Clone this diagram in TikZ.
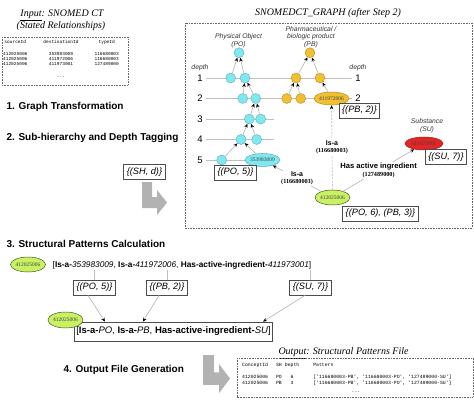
\documentclass[tikz,border=0pt]{standalone}
\usepackage{fontspec}
\setmainfont{Liberation Serif}
\setsansfont{Liberation Sans}
\setmonofont{Liberation Mono}
\usetikzlibrary{shapes.geometric, arrows.meta}

\definecolor{pocyan}{RGB}{128,232,240}
\definecolor{pbgold}{RGB}{240,192,50}
\definecolor{cgreen}{RGB}{200,242,100}
\definecolor{sured}{RGB}{226,38,38}

\begin{document}
\begin{tikzpicture}[
            x=1pt, y=-1pt, % pixel grid, y grows downwards
            title/.style={font=\rmfamily\itshape\fontsize{10}{12}\selectfont, anchor=base}, % Serif titles
            stepname/.style={font=\sffamily\bfseries\fontsize{10}{12}\selectfont, anchor=base west}, % Step headings
            dotbox/.style={draw=black!60, line width=0.8pt, dash pattern=on 0.8pt off 0.8pt},
            tag/.style={draw=black!70, line width=0.8pt, fill=white, inner xsep=3pt, inner ysep=0pt, minimum height=15pt, font=\sffamily\itshape\fontsize{9.2}{11}\selectfont},
            leaf/.style={circle, minimum size=10pt, inner sep=0pt, line width=0.4pt},
            po/.style={leaf, fill=pocyan, draw=pocyan!75!black}, % Physical Object nodes
            pb/.style={leaf, fill=pbgold, draw=pbgold!75!black}, % Pharmaceutical nodes
            cid/.style={ellipse, inner sep=0pt, minimum width=35pt, minimum height=13pt, line width=0.5pt, text=black!75, font=\rmfamily\fontsize{5.5}{6}\selectfont},
            isa/.style={draw=black!30, line width=0.6pt, -{Stealth[color=black, length=4pt, width=3.5pt]}},
            depthline/.style={draw=black!25, line width=0.6pt},
            depthno/.style={font=\sffamily\fontsize{9.5}{11}\selectfont},
            hier/.style={font=\sffamily\itshape\fontsize{6.8}{7.5}\selectfont, align=center, inner sep=0pt, text=black!80},
            rel/.style={fill=white, inner sep=0.6pt, align=center, font=\sffamily\bfseries\fontsize{7}{7.5}\selectfont},
            rows/.style={font=\ttfamily\fontsize{4.5}{5}\selectfont, inner sep=0pt},
            bigarrow/.pic={\fill[black!30] (0,0) -- (10,0) -- (10,15) -- (15,15) -- (15,8) -- (25,20.5) -- (15,33) -- (15,26) -- (0,26) -- cycle;}
            ]
        \useasboundingbox (0,0) rectangle (474,401);

        % Input table
        \node[title] (intitle) at (62,17) {\underline{Input}: SNOMED CT};
        \node[title] (insub) at (61,28.5) {(Stated Relationships)};
        \draw[dotbox] (2,37) rectangle (128,85);
        \node[rows, anchor=north] (intable) at (61,39.5) {\begin{tabular}{@{}c@{\hspace{16pt}}c@{\hspace{16pt}}c@{}}
            sourceId & destinationId & typeId\\[7pt]
            412025006 & 353983009 & 116680003\\
            412025006 & 411972006 & 116680003\\
            412025006 & 411973001 & 127489000\\[7pt]
            & ... &
            \end{tabular}};

        \node[stepname] (step1) at (3,110) {1. Graph Transformation};
        \node[stepname] (step2) at (3,141) {2. Sub-hierarchy and Depth Tagging};
        \node[tag] (sh) at (144.5,172) {\{(SH, d)\}};
        \pic at (142,182) {bigarrow};

        % Graph after step 2
        \node[title] (graphtitle) at (328,16) {SNOMEDCT\_GRAPH (after Step 2)};
        \draw[dotbox] (185,23) rectangle (472,228);
        \node[hier, anchor=north] (pohead) at (238.5,33.5) {Physical Object\\(PO)};
        \node[hier, anchor=north] (pbhead) at (311,26) {Pharmaceutical /\\biologic product\\(PB)};
        \node[hier, anchor=base] (depthl) at (200,70) {depth};
        \node[hier, anchor=base] (depthr) at (358,69.5) {depth};

        % Depth levels
        \foreach \d/\y in {1/78, 2/98.5, 3/119, 4/139.5, 5/160}
            \node[depthno] (d\d) at (200,\y) {\d};
        \node[depthno] (r1) at (358,78) {1};
        \node[depthno] (r2) at (358,98.5) {2};
        \coordinate (e3) at (274,119);
        \coordinate (e4) at (274,139.5);
        \coordinate (e5) at (262,160);
        \draw[depthline] (d1) -- (r1);
        \draw[depthline] (d2) -- (r2);
        \foreach \d in {3,4,5}
            \draw[depthline] (d\d) -- (e\d);

        % Physical Object sub-hierarchy
        \node[po] (po0) at (239,52.7) {};
        \node[po] (po1a) at (230.7,78) {};
        \node[po] (po1b) at (245,78) {};
        \node[po] (po2a) at (242.7,98.5) {};
        \node[po] (po2b) at (255.7,98.5) {};
        \node[po] (po3a) at (249.3,119) {};
        \node[po] (po3b) at (260.7,119) {};
        \node[po] (po4a) at (241,139.5) {};
        \node[po] (po4b) at (256.7,139.5) {};
        \node[po] (po5a) at (221.7,160) {};
        \node[cid, fill=pocyan, draw=pocyan!75!black] (po5b) at (262.5,160) {353983009};
        \foreach \c/\p in {po1a/po0, po1b/po0, po2a/po1b, po2b/po1b, po3a/po2b, po3b/po2b, po4a/po3a, po4b/po3a, po5a/po4a, po5b/po4a}
            \draw[isa] (\c) -- (\p);

        % Pharmaceutical / biologic product sub-hierarchy
        \node[pb] (pb0) at (310,52.7) {};
        \node[pb] (pb1a) at (296,78) {};
        \node[pb] (pb1b) at (320,78) {};
        \node[pb] (pb2a) at (286.7,98.5) {};
        \node[pb] (pb2b) at (300.7,98.5) {};
        \node[cid, fill=pbgold, draw=pbgold!75!black] (pb2c) at (331.5,98.5) {411972006};
        \foreach \c/\p in {pb1a/pb0, pb1b/pb0, pb2a/pb1a, pb2b/pb1a, pb2c/pb1b}
            \draw[isa] (\c) -- (\p);

        % Substance and the focus concept
        \node[hier, anchor=south] (suhead) at (427,133) {Substance\\(SU)};
        \node[cid, fill=sured, draw=sured!70!black, minimum width=38pt] (su) at (424,143.5) {411973001};
        \node[cid, fill=cgreen, draw=cgreen!35!black, minimum height=15pt] (focus) at (332.5,197.5) {412025006};
        \draw[isa] (focus) -- node[rel] {Is-a\\{\rmfamily\fontsize{6.2}{7}\selectfont(116680003)}} (po5b);
        \draw[isa, dash pattern=on 2pt off 1.5pt] (focus) -- node[rel] {Is-a\\{\rmfamily\fontsize{6.2}{7}\selectfont(116680003)}} (pb2c);
        \draw[isa] (focus) -- node[rel, font=\sffamily\bfseries\fontsize{7.6}{8.5}\selectfont] {Has active ingredient\\{\rmfamily\fontsize{6.2}{7}\selectfont(127489000)}} (su);

        \node[tag] (pbtag) at (359.5,110.5) {\{(PB, 2)\}};
        \node[tag] (potag) at (235.5,172.5) {\{(PO, 5)\}};
        \node[tag] (sutag) at (446,157) {\{(SU, 7)\}};
        \node[tag] (focustag) at (380.5,213.5) {\{(PO, 6), (PB, 3)\}};

        % Step 3
        \node[stepname] (step3) at (3,247.5) {3. Structural Patterns Calculation};
        \node[cid, fill=cgreen, draw=cgreen!35!black, minimum height=15pt] (focus3) at (28,264.5) {412025006};
        \node[anchor=base west, inner sep=0.5pt, font=\sffamily\fontsize{8.3}{10}\selectfont] (chain) at (52,267.5)
            {[\textbf{Is-a-}\textit{353983009}, \textbf{Is-a-}\textit{411972006}, \textbf{Has-active-ingredient-}\textit{411973001}]};
        \node[tag] (potag3) at (94.5,287.5) {\{(PO, 5)\}};
        \node[tag] (pbtag3) at (167,287.5) {\{(PB, 2)\}};
        \node[tag] (sutag3) at (310.5,287.5) {\{(SU, 7)\}};
        \foreach \t in {potag3, pbtag3, sutag3}
            \draw[depthline] (\t.north) -- (\t.north |- chain.south);

        \node[tag, font=\sffamily\fontsize{9.5}{11}\selectfont, minimum height=19pt, inner xsep=2pt] (pattern) at (173.5,331.5)
            {[\textbf{Is-a-}\textit{PO}, \textbf{Is-a-}\textit{PB}, \textbf{Has-active-ingredient-}\textit{SU}]};
        \draw[isa] ([xshift=-6.5pt]potag3.south) -- ([xshift=31pt]pattern.north west);
        \draw[isa] ([xshift=-8pt]pbtag3.south) -- ([xshift=69pt]pattern.north west);
        \draw[isa] ([xshift=-5.5pt]sutag3.south) -- ([xshift=-10pt]pattern.north east);
        \node[cid, fill=cgreen, draw=cgreen!35!black, minimum height=16pt] (focus4) at (65.5,320) {412025006};

        % Step 4
        \node[stepname] (step4) at (60,372) {4. Output File Generation};
        \pic[xscale=1.08, yscale=1.15] at (203,355) {bigarrow};
        \node[title] (outtitle) at (343.5,354.5) {\underline{Output}: Structural Patterns File};
        \draw[dotbox] (237,358) rectangle (473,397);
        \node[rows, anchor=north west, font=\ttfamily\fontsize{4.8}{6}\selectfont] (outtable) at (242,362.3) {\begin{tabular}{@{}l@{\hspace{8pt}}l@{\hspace{3pt}}c@{\hspace{14pt}}l@{}}
            ConceptId & SH & Depth & Pattern\\[6pt]
            412025006 & PO & 6 & ['116680003-PB', '116680003-PO', '127489000-SU']\\
            412025006 & PB & 3 & ['116680003-PB', '116680003-PO', '127489000-SU']
            \end{tabular}};
        \node[rows, anchor=base, font=\ttfamily\fontsize{4.8}{6}\selectfont] (outdots) at (356,392) {...};

\end{tikzpicture}
\end{document}
